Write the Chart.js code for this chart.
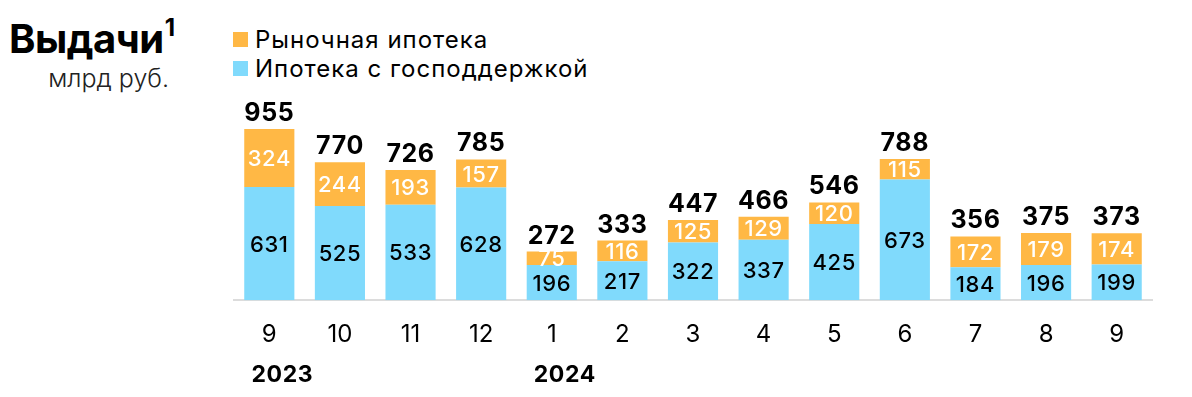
<!DOCTYPE html>
<html lang="ru">
<head>
<meta charset="utf-8">
<script src="https://cdn.jsdelivr.net/npm/chart.js@4"></script>
<style>
  html, body { margin: 0; padding: 0; background: #fff; }
  body { width: 1192px; height: 397px; position: relative; overflow: hidden; font-family: Inter, "Open Sans", sans-serif; color: #000; }
  #wrap { position: absolute; left: 0; top: 0; width: 1192px; height: 397px; }
  .title { position: absolute; left: 9px; top: 14px; font-size: 40px; font-weight: 700; letter-spacing: -0.5px; }
  .title sup { font-size: 24px; position: relative; top: 2px; vertical-align: top; line-height: 1; margin-left: 1px; }
  .unit { position: absolute; right: calc(1192px - 169px); top: 63px; font-size: 25px; font-weight: 300; color: #222; }
  #legend { position: absolute; left: 233px; top: 25px; }
  .li { display: flex; align-items: center; height: 29px; font-size: 24px; letter-spacing: 1px; }
  .sw { width: 15px; height: 15px; margin-right: 7px; }
</style>
</head>
<body>
<div class="title">Выдачи<sup>1</sup></div>
<div class="unit">млрд руб.</div>
<div id="legend"></div>
<div id="wrap"><canvas id="chart" width="1192" height="397"></canvas></div>
<script>
// месяцы и годы под осью
const months = ["9", "10", "11", "12", "1", "2", "3", "4", "5", "6", "7", "8", "9"];
const years = ["2023", "", "", "", "2024", "", "", "", "", "", "", "", ""];
// млрд руб.
const govMortgage = [631, 525, 533, 628, 196, 217, 322, 337, 425, 673, 184, 196, 199];
const marketMortgage = [324, 244, 193, 157, 75, 116, 125, 129, 120, 115, 172, 179, 174];
const totals = [955, 770, 726, 785, 272, 333, 447, 466, 546, 788, 356, 375, 373];

const ORANGE = "#FFB845";
const BLUE = "#80DAFC";
const FONT = "Inter, 'Open Sans', sans-serif";

// легенда: сверху рыночная, ниже господдержка
document.getElementById("legend").innerHTML = [
  ["Рыночная ипотека", ORANGE],
  ["Ипотека с господдержкой", BLUE],
].map(([t, c]) => `<div class="li"><span class="sw" style="background:${c}"></span>${t}</div>`).join("");

const labelsPlugin = {
  id: "barLabels",
  afterDatasetsDraw(chart) {
    const ctx = chart.ctx;
    ctx.save();
    ctx.textAlign = "center";
    ctx.textBaseline = "alphabetic";
    ctx.letterSpacing = "0.6px";
    chart.data.datasets.forEach((ds, di) => {
      const meta = chart.getDatasetMeta(di);
      meta.data.forEach((bar, i) => {
        const mid = (bar.y + bar.base) / 2;
        ctx.font = `500 22px ${FONT}`;
        ctx.fillStyle = di === 0 ? "#000" : "#fff";
        ctx.fillText(String(ds.data[i]), bar.x, mid + 8);
      });
    });
    // итоги над столбиками
    const top = chart.getDatasetMeta(1).data;
    ctx.font = `700 25px ${FONT}`;
    ctx.fillStyle = "#000";
    top.forEach((bar, i) => ctx.fillText(String(totals[i]), bar.x, bar.y - 8));
    // годы
    const xs = chart.scales.x;
    ctx.font = `700 23px ${FONT}`;
    years.forEach((y, i) => {
      if (!y) return;
      ctx.fillText(y, xs.getPixelForValue(i) + 13, 382);
    });
    ctx.restore();
  },
};

new Chart(document.getElementById("chart"), {
  type: "bar",
  data: {
    labels: months,
    datasets: [
      { label: "Ипотека с господдержкой", data: govMortgage, backgroundColor: BLUE },
      { label: "Рыночная ипотека", data: marketMortgage, backgroundColor: ORANGE },
    ],
  },
  options: {
    responsive: false,
    animation: false,
    devicePixelRatio: 1,
    layout: { padding: { left: 234, right: 40, top: 103, bottom: 28 } },
    datasets: { bar: { barPercentage: 0.71, categoryPercentage: 1, borderWidth: 0 } },
    plugins: { legend: { display: false }, tooltip: { enabled: false } },
    scales: {
      x: {
        stacked: true,
        grid: { display: false, drawTicks: false },
        border: { display: true, color: "#dcdcdc", width: 2 },
        ticks: { color: "#000", padding: 20, font: { family: FONT, size: 24 } },
      },
      y: {
        stacked: true,
        display: false,
        min: 0,
        max: 1100,
      },
    },
  },
  plugins: [labelsPlugin],
});
</script>
</body>
</html>
